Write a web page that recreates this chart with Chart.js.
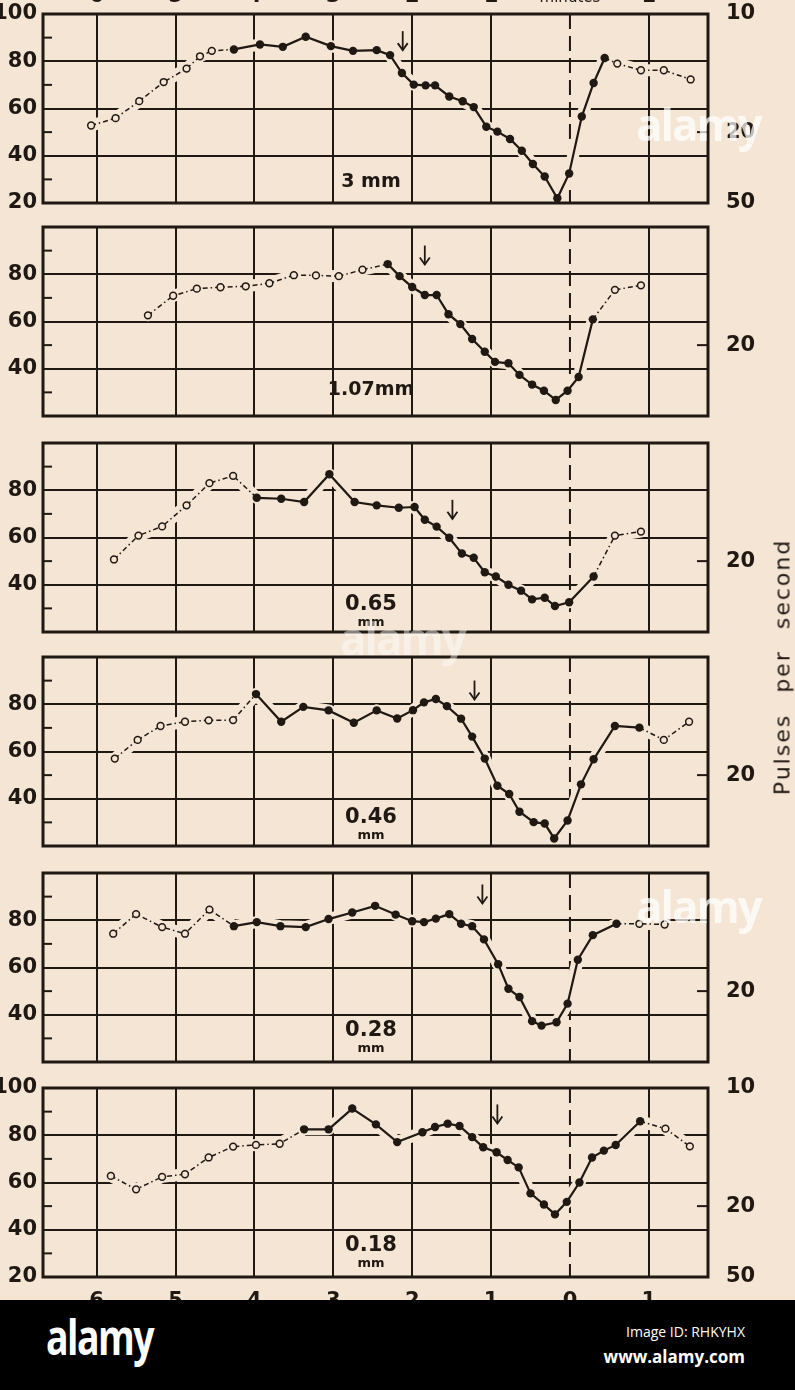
<!DOCTYPE html>
<html>
<head>
<meta charset="utf-8">
<script src="https://cdn.jsdelivr.net/npm/chart.js@4.4.1/dist/chart.umd.min.js"></script>
<style>
  html, body { margin: 0; padding: 0; }
  body { width: 795px; height: 1390px; background: #f4e5d4; position: relative; overflow: hidden; font-family: "DejaVu Sans", sans-serif; }
  canvas { position: absolute; left: 0; }
  #ylab { position: absolute; left: 782px; top: 667px; transform: translate(-50%, -50%) rotate(-90deg);
          white-space: nowrap; font-size: 22px; color: #1f1813; letter-spacing: 2px; word-spacing: 12px; }
  .wm { position: absolute; color: rgba(255,255,255,0.72); font: bold 44px "Open Sans", sans-serif; letter-spacing: -2px; }
  #bar { position: absolute; left: 0; top: 1300px; width: 795px; height: 90px; background: #000; z-index: 5; }
  #logo { position: absolute; left: 46px; top: 4px; color: #fff; font: bold 48px "Open Sans", sans-serif; letter-spacing: -2px;
          transform: scaleX(0.78); transform-origin: left top; }
  #imgid { position: absolute; right: 50px; top: 22px; color: #fff; font: 14px "Open Sans", sans-serif; }
  #url { position: absolute; right: 50px; top: 45px; color: #fff; font: bold 17px "Open Sans", sans-serif; }
</style>
</head>
<body>
<div id="plots"></div>
<div id="ylab">Pulses per second</div>
<div class="wm" style="left:636px; top:94px;">alamy</div>
<div class="wm" style="left:636px; top:876px;">alamy</div>
<div class="wm" style="left:340px; top:608px; color:rgba(255,255,255,0.45)">alamy</div>
<div id="bar">
  <div id="logo">alamy</div>
  <div id="imgid">Image ID: RHKYHX</div>
  <div id="url">www.alamy.com</div>
</div>
<script>
const INK = '#1f1813';
const BG = '#f4e5d4';

// x: minutes before (+) / after (-) the zero mark, y: left-axis value
// solid = first and last index of the filled (solid line) points
const p1x = [6.07, 5.76, 5.46, 5.15, 4.86, 4.69, 4.54, 4.26, 3.93, 3.64, 3.35, 3.03, 2.75, 2.45, 2.28, 2.13, 1.98, 1.83, 1.71, 1.53, 1.36, 1.22, 1.06, 0.92, 0.76, 0.61, 0.47, 0.32, 0.16, 0.01, -0.15, -0.30, -0.44, -0.60, -0.90, -1.19, -1.53];
const p1y = [52.8, 55.9, 63.1, 71.2, 76.9, 82.1, 84.4, 85.0, 87.1, 86.1, 90.4, 86.4, 84.4, 84.7, 82.6, 75.0, 70.1, 69.8, 69.8, 65.1, 63.1, 60.6, 52.3, 50.2, 47.1, 42.1, 36.5, 31.2, 22.0, 32.5, 56.6, 70.8, 81.4, 79.0, 76.2, 76.2, 72.3];
const p1solid = [7, 32];

const p2x = [5.35, 5.03, 4.73, 4.43, 4.11, 3.81, 3.50, 3.22, 2.93, 2.63, 2.31, 2.16, 2.00, 1.84, 1.69, 1.54, 1.39, 1.24, 1.08, 0.95, 0.78, 0.64, 0.48, 0.33, 0.18, 0.03, -0.11, -0.29, -0.57, -0.90];
const p2y = [62.6, 70.9, 73.9, 74.5, 74.9, 76.2, 79.6, 79.5, 79.2, 81.9, 84.3, 79.2, 74.6, 71.2, 71.2, 63.1, 58.9, 52.6, 47.2, 42.9, 42.3, 37.4, 33.3, 30.7, 26.8, 30.7, 36.5, 60.9, 73.4, 75.3];
const p2solid = [10, 27];

const p3x = [5.78, 5.47, 5.17, 4.86, 4.57, 4.27, 3.97, 3.66, 3.37, 3.05, 2.73, 2.45, 2.17, 1.97, 1.84, 1.69, 1.53, 1.37, 1.22, 1.08, 0.94, 0.78, 0.62, 0.48, 0.32, 0.19, 0.01, -0.30, -0.57, -0.90];
const p3y = [50.7, 60.8, 64.7, 73.6, 83.0, 86.1, 76.8, 76.4, 75.0, 86.8, 75.0, 73.6, 72.6, 72.9, 67.5, 64.6, 59.9, 53.2, 51.4, 45.3, 43.5, 40.0, 37.5, 33.8, 34.5, 31.0, 32.6, 43.5, 60.8, 62.5];
const p3solid = [6, 27];

const p4x = [5.77, 5.48, 5.19, 4.88, 4.58, 4.27, 3.98, 3.66, 3.38, 3.06, 2.74, 2.45, 2.19, 1.99, 1.85, 1.70, 1.56, 1.38, 1.24, 1.08, 0.92, 0.77, 0.64, 0.46, 0.32, 0.20, 0.03, -0.14, -0.30, -0.57, -0.88, -1.19, -1.51];
const p4y = [57.0, 64.9, 70.8, 72.6, 73.2, 73.3, 84.3, 72.6, 78.9, 77.4, 72.2, 77.4, 74.0, 77.5, 80.8, 82.2, 79.2, 73.9, 66.3, 57.0, 45.5, 42.0, 34.5, 30.1, 29.5, 23.2, 30.8, 46.1, 56.7, 70.8, 70.1, 64.9, 72.6];
const p4solid = [6, 30];

const p5x = [5.79, 5.50, 5.17, 4.88, 4.57, 4.26, 3.97, 3.67, 3.35, 3.06, 2.76, 2.47, 2.21, 2.00, 1.85, 1.70, 1.53, 1.38, 1.24, 1.09, 0.91, 0.78, 0.64, 0.48, 0.36, 0.17, 0.03, -0.10, -0.29, -0.59, -0.88, -1.20];
const p5y = [74.3, 82.6, 77.1, 74.3, 84.5, 77.5, 79.2, 77.5, 77.1, 80.5, 83.3, 86.1, 82.4, 79.6, 79.2, 80.7, 82.6, 78.5, 77.5, 71.9, 61.4, 51.0, 47.5, 37.3, 35.4, 36.8, 44.7, 63.3, 73.7, 78.5, 78.5, 78.2];
const p5solid = [5, 29];

const p6x = [5.82, 5.50, 5.17, 4.88, 4.58, 4.27, 3.98, 3.68, 3.37, 3.06, 2.76, 2.46, 2.19, 1.87, 1.71, 1.55, 1.40, 1.24, 1.10, 0.93, 0.79, 0.65, 0.50, 0.33, 0.19, 0.04, -0.12, -0.28, -0.43, -0.58, -0.89, -1.21, -1.52];
const p6y = [62.8, 57.1, 62.4, 63.5, 70.6, 75.2, 75.9, 76.4, 82.5, 82.5, 91.3, 84.6, 77.1, 81.3, 83.5, 84.9, 83.9, 79.2, 74.9, 72.8, 69.5, 66.4, 55.4, 50.7, 46.5, 51.8, 60.0, 70.6, 73.5, 75.9, 85.9, 82.8, 75.3];
const p6solid = [8, 30];

const sizeLabels = ['3 mm', '1.07mm', '0.65', '0.46', '0.28', '0.18'];
const arrowX = [2.12, 1.84, 1.49, 1.21, 1.11, 0.92];
const arrowY = [84.7, 84.1, 67.9, 82.0, 87.1, 85.0];

const xTicks = [-1, 0, 1, 2, 3, 4, 5, 6];
const topLabels = ['1', 'minutes', '1', '2', '3', '4', '5', '6'];
const leftTicks = [20, 30, 40, 50, 60, 70, 80, 90, 100];
const leftLabelsFull = [20, 40, 60, 80, 100];
const leftLabelsInner = [40, 60, 80];
const rightLabelsFull = [10, 20, 50];
const rightLabelsInner = [20];

const X_MIN = -1.75, X_MAX = 6.68;
const PANEL_TOP = [14, 227, 443, 657, 873, 1088];
const PH = 189, PAD = 30, W = 795;
const tickFont = { family: 'DejaVu Sans', size: 21, weight: 'bold' };

function pts(xs, ys, a, b) {
  const out = [];
  for (let k = a; k <= b; k++) out.push({ x: xs[k], y: ys[k] });
  return out;
}

function line(ctx, x1, y1, x2, y2) {
  ctx.beginPath(); ctx.moveTo(x1, y1); ctx.lineTo(x2, y2); ctx.stroke();
}

const decor = {
  id: 'decor',
  beforeDatasetsDraw(chart) {
    const { ctx, chartArea: a, scales } = chart;
    const x0 = scales.x.getPixelForValue(0);
    ctx.save();
    ctx.strokeStyle = INK;
    ctx.lineWidth = 2;
    ctx.setLineDash([15, 7]);
    line(ctx, x0, a.top, x0, a.bottom);
    ctx.restore();
  },
  afterDatasetsDraw(chart, args, opts) {
    const { ctx, chartArea: a, scales } = chart;
    const i = opts.panel;
    ctx.save();
    ctx.strokeStyle = INK;
    ctx.fillStyle = INK;
    ctx.lineWidth = 2;
    // short inward ticks on the left, at the odd tens
    [30, 50, 70, 90].forEach(v => {
      const y = scales.y.getPixelForValue(v);
      line(ctx, a.left, y, a.left + 9, y);
    });
    // inward tick for the right-hand "20"
    const yr = scales.y2.getPixelForValue(1000 / 20);
    line(ctx, a.right - 11, yr, a.right, yr);
    // frame
    ctx.lineWidth = 3;
    ctx.strokeRect(a.left, a.top, a.right - a.left, a.bottom - a.top);
    // arrow
    const ax = scales.x.getPixelForValue(arrowX[i]);
    const ay = scales.y.getPixelForValue(arrowY[i]);
    ctx.lineWidth = 1.8;
    line(ctx, ax, ay - 19, ax, ay);
    ctx.beginPath();
    ctx.moveTo(ax - 5, ay - 7); ctx.lineTo(ax, ay); ctx.lineTo(ax + 5, ay - 7);
    ctx.stroke();
    // size label
    ctx.textAlign = 'center';
    ctx.textBaseline = 'middle';
    const cx = a.left + 328;
    if (i < 2) {
      ctx.font = 'bold 19px "DejaVu Sans"';
      ctx.fillText(sizeLabels[i], cx, a.bottom - (i === 0 ? 21 : 26));
    } else {
      ctx.font = 'bold 21px "DejaVu Sans"';
      const up = [0, 0, 27, 28, 31, 31][i];
      ctx.fillText(sizeLabels[i], cx, a.bottom - up);
      ctx.font = 'bold 13px "DejaVu Sans"';
      ctx.fillText('mm', cx, a.bottom - up + 18);
    }
    // axis labels of the first panel, mostly cut off by the page top
    if (i === 0) {
      xTicks.forEach((v, k) => {
        const px = scales.x.getPixelForValue(v);
        ctx.font = v === 0 ? '15px "DejaVu Sans"' : 'bold 21px "DejaVu Sans"';
        ctx.fillText(topLabels[k], px, a.top - (v === 0 ? 16 : 17));
      });
    }
    ctx.restore();
  }
};

function makePanel(i, xs, ys, solid) {
  const n = xs.length;
  const first = i === 0, last = i === 5;
  const cv = document.createElement('canvas');
  cv.width = W;
  cv.height = PH + 2 * PAD;
  cv.style.top = (PANEL_TOP[i] - PAD) + 'px';
  document.getElementById('plots').appendChild(cv);

  const before = pts(xs, ys, 0, solid[0]);
  const main = pts(xs, ys, solid[0], solid[1]);
  const after = pts(xs, ys, solid[1], n - 1);
  const leftShown = (first || last) ? leftLabelsFull : leftLabelsInner;
  const rightShown = (first || last) ? rightLabelsFull : rightLabelsInner;

  const openStyle = {
    borderColor: INK, borderWidth: 1.5, borderDash: [5, 3, 1.5, 3],
    pointBackgroundColor: BG, pointBorderColor: INK, pointBorderWidth: 1.5,
    tension: 0, order: 2
  };

  new Chart(cv, {
    type: 'line',
    data: {
      datasets: [
        { data: main, borderColor: INK, borderWidth: 2.2, pointRadius: 4.2,
          pointBackgroundColor: INK, pointBorderWidth: 0, tension: 0, order: 1 },
        Object.assign({ data: before,
          pointRadius: c => c.dataIndex === before.length - 1 ? 0 : 3.4 }, openStyle),
        Object.assign({ data: after,
          pointRadius: c => c.dataIndex === 0 ? 0 : 3.4 }, openStyle),
        // background-coloured halo that breaks the grid where the curve passes
        { data: pts(xs, ys, 0, n - 1), borderColor: BG, borderWidth: 12, pointRadius: 0,
          tension: 0, order: 10, clip: 0, borderCapStyle: 'round', borderJoinStyle: 'round' }
      ]
    },
    options: {
      responsive: false,
      animation: false,
      devicePixelRatio: 1,
      events: [],
      layout: { padding: { top: PAD, bottom: 0, left: 0, right: 0 } },
      plugins: { legend: { display: false }, tooltip: { enabled: false }, decor: { panel: i } },
      scales: {
        x: {
          type: 'linear', position: 'bottom', reverse: true, min: X_MIN, max: X_MAX,
          afterBuildTicks: s => { s.ticks = xTicks.map(v => ({ value: v })); },
          afterFit: s => { s.height = PAD; },
          grid: { color: c => (c.tick && c.tick.value === 0) ? 'rgba(0,0,0,0)' : INK, lineWidth: 2, drawTicks: false },
          border: { display: false },
          ticks: { display: last, padding: 12, color: INK, font: tickFont, maxRotation: 0, autoSkip: false,
                   callback: v => String(Math.abs(v)) }
        },
        y: {
          position: 'left', min: 20, max: 100,
          afterBuildTicks: s => { s.ticks = leftTicks.map(v => ({ value: v })); },
          afterFit: s => { s.width = 43; },
          grid: { color: c => (c.tick && [40, 60, 80].includes(c.tick.value)) ? INK : 'rgba(0,0,0,0)', lineWidth: 2, drawTicks: false },
          border: { display: false },
          ticks: { padding: 6, color: INK, font: tickFont, autoSkip: false,
                   callback: v => leftShown.includes(v) ? String(v) : '' }
        },
        y2: {
          position: 'right', min: 20, max: 100,
          afterBuildTicks: s => { s.ticks = rightShown.map(r => ({ value: 1000 / r })); },
          afterFit: s => { s.width = W - 708; },
          grid: { display: false },
          border: { display: false },
          ticks: { padding: 10, color: INK, font: tickFont, autoSkip: false,
                   callback: v => String(Math.round(1000 / v)) }
        }
      }
    },
    plugins: [decor]
  });
}

makePanel(0, p1x, p1y, p1solid);
makePanel(1, p2x, p2y, p2solid);
makePanel(2, p3x, p3y, p3solid);
makePanel(3, p4x, p4y, p4solid);
makePanel(4, p5x, p5y, p5solid);
makePanel(5, p6x, p6y, p6solid);
</script>
</body>
</html>
